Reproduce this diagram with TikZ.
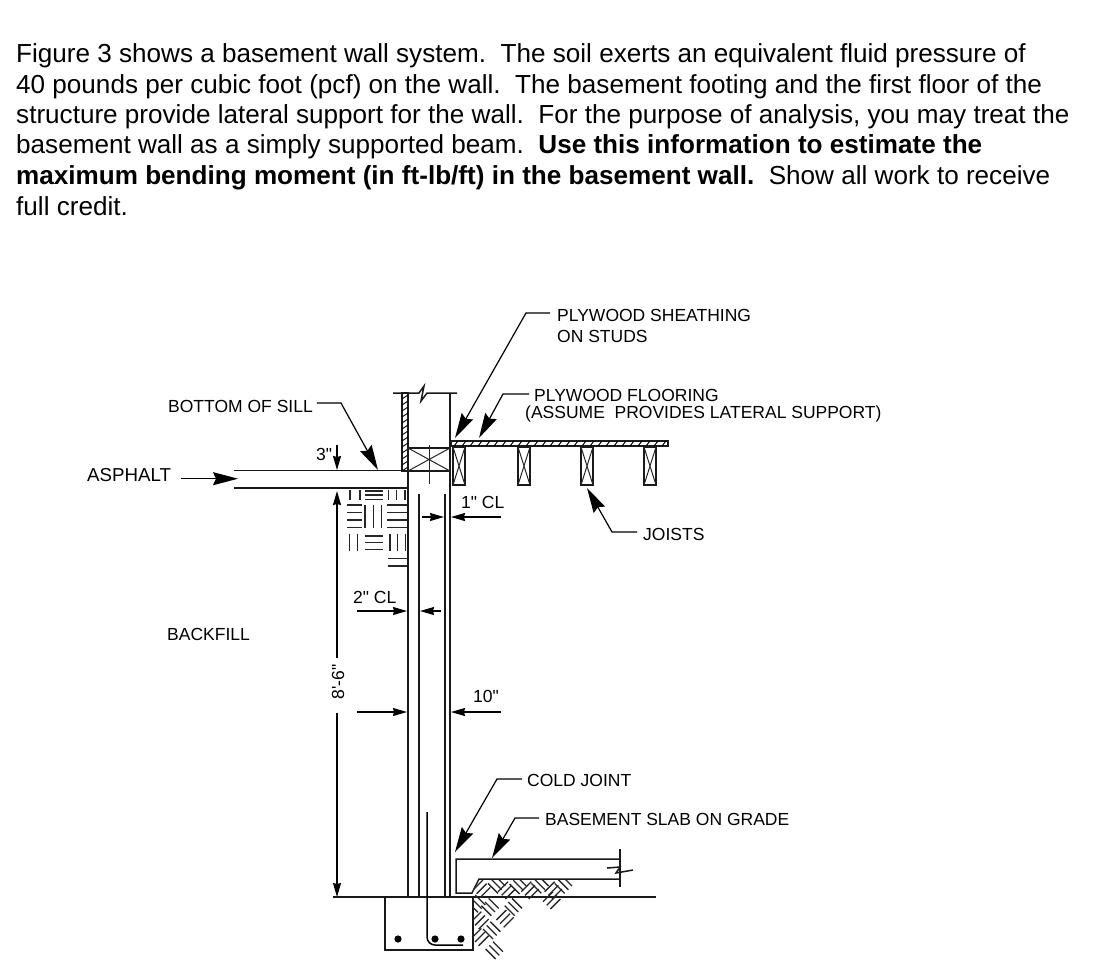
\documentclass[tikz,border=0pt]{standalone}
\usepackage{fontspec}
\setmainfont{Liberation Sans}[Ligatures=TeXOff]
\usetikzlibrary{arrows.meta}
\tikzset{
  para/.style={anchor=base west, inner sep=0pt, font=\fontsize{26.1}{30}\selectfont},
  lbl/.style={anchor=base west, inner sep=0pt, font=\fontsize{17.5}{20}\selectfont},
  ln/.style={line width=1.5pt, black!90},
  thin line/.style={line width=1pt, black!85},
  lead/.style={line width=1.2pt, -{Stealth[length=25pt,width=13pt,inset=3pt]}},
  dim/.style={line width=1.2pt, -{Stealth[length=14pt,width=8pt,inset=1pt]}},
  hatch/.style={line width=1.3pt, black!85}
}
\begin{document}
\begin{tikzpicture}[x=1pt,y=-1pt]
\useasboundingbox (0,0) rectangle (1094,978);
% problem text
\node[para] (line1) at (16,62) {Figure 3 shows a basement wall system.\ \ The soil exerts an equivalent fluid pressure of};
\node[para] (line2) at (16,93) {40 pounds per cubic foot (pcf) on the wall.\ \ The basement footing and the first floor of the};
\node[para] (line3) at (16,123) {structure provide lateral support for the wall.\ \ For the purpose of analysis, you may treat the};
\node[para] (line4) at (16,153.5) {basement wall as a simply supported beam.\ \ \textbf{Use this information to estimate the}};
\node[para] (line5) at (16,184.5) {\textbf{maximum bending moment (in ft-lb/ft) in the basement wall.}\ \ Show all work to receive};
\node[para] (line6) at (16,215) {full credit.};
% labels
\node[lbl] (sheathing) at (557,321) {PLYWOOD SHEATHING};
\node[lbl] (studs) at (557,342) {ON STUDS};
\node[lbl] (flooring) at (534,401) {PLYWOOD FLOORING};
\node[lbl] (assume) at (525,418) {(ASSUME\ \ PROVIDES LATERAL SUPPORT)};
\node[lbl] (sill) at (168,412) {BOTTOM OF SILL};
\node[lbl, font=\fontsize{18.7}{20}\selectfont] (asphalt) at (87,481) {ASPHALT};
\node[lbl] (joists) at (643,540) {JOISTS};
\node[lbl] (backfill) at (167,640) {BACKFILL};
\node[lbl] (coldjoint) at (527,786) {COLD JOINT};
\node[lbl] (slab) at (545,825) {BASEMENT SLAB ON GRADE};
\node[lbl] (three) at (316,460) {3"};
\node[lbl] (onecl) at (461,508) {1" CL};
\node[lbl] (twocl) at (353,603) {2" CL};
\node[lbl] (ten) at (473,702) {10"};
\node[lbl, anchor=center, rotate=90] (height) at (338,682) {8'-6"};
% wall
\draw[ln] (408,393) -- (408,897) (450,393) -- (450,897);
\draw[ln] (419,494) -- (419,897) (445,494) -- (445,897);
\draw[ln] (393,393) -- (419,393) -- (424,386) -- (421,401) -- (427,393) -- (457,393);
% sheathing at top of wall
\draw[ln] (402,393) rectangle (408,471);
\foreach \y in {397,403,...,469} \draw[line width=.9pt] (402,\y+2) -- (408,\y-2);
% sill plate
\draw[ln] (408,448) rectangle (450,471);
\draw[thin line] (408,448) -- (450,471) (408,471) -- (450,448);
\draw[thin line] (429,445) -- (429,484);
% plywood floor
\draw[ln] (451,441) rectangle (668,446);
\foreach \x in {456,464,...,664} \draw[line width=.9pt] (\x-2,446) -- (\x+2,441);
% joists
\foreach \x in {453,518,581,644} {
  \draw[ln] (\x,447) rectangle (\x+12,485);
  \draw[thin line] (\x,447) -- (\x+12,485) (\x,485) -- (\x+12,447);
}
% asphalt and grade
\draw[ln] (234,470.5) -- (407,470.5);
\draw[ln] (234,488) -- (407,488);
\draw[ln] (333,897) -- (385,897) (473,897) -- (656,897);
% backfill hatching
\begin{scope}[shift={(340,380)},x=.3333pt,y=-.3333pt]
\foreach \y in {333,345,358,468,487,508} \draw[hatch] (75,\y) -- (130,\y);
\foreach \y in {375,398,420,443} \draw[hatch] (20,\y) -- (65,\y) (140,\y) -- (200,\y);
\foreach \y in {535,558} \draw[hatch] (145,\y) -- (200,\y);
\foreach \x in {30,60,145,170,195} \draw[hatch] (\x,330) -- (\x,360);
\foreach \x in {75,100,125} \draw[hatch] (\x,375) -- (\x,445);
\foreach \x in {28,53,150,172,197} \draw[hatch] (\x,462) -- (\x,512);
\end{scope}
% footing
\draw[ln] (385,897) rectangle (473,950);
\draw[line width=1.5pt] (427,812) -- (427,937) arc[start angle=180,end angle=90,radius=8] -- (463,945);
\foreach \x in {398,435,461} \fill (\x,939) circle (3.6);
% slab
\draw[ln] (620,859) -- (456,859) -- (456,893) -- (472,893) -- (479,879) -- (620,879);
\draw[ln] (620,849) -- (620,887);
\draw[ln] (607,868) -- (620,867) -- (616,873) -- (633,870);
% slab hatching
\begin{scope}[shift={(465,872)},x=.3333pt,y=-.3333pt]
\clip (24,24) rectangle (360,270);
\foreach \bx/\by in {50/50,125/55,195/55,265/55,120/140,45/145,45/195,260/85} {
  \foreach \k in {-1,0,1} \draw[hatch] (\bx+11*\k-15,\by+11*\k+15) -- (\bx+11*\k+15,\by+11*\k-15);
}
\foreach \bx/\by in {95/38,160/40,225/38,295/38,75/105,145/105,35/95,80/175,88/235} {
  \foreach \k in {-1,0,1} \draw[hatch] (\bx-11*\k-15,\by+11*\k-15) -- (\bx-11*\k+15,\by+11*\k+15);
}
\end{scope}
% leaders
\coordinate (sheathTip) at (455,438);
\coordinate (floorTip) at (479,438);
\coordinate (sillTip) at (378,470);
\coordinate (joistTip) at (587,488);
\coordinate (coldTip) at (455,852);
\coordinate (slabTip) at (492,858);
\coordinate (asphaltTail) at (181,478.7);
\coordinate (asphaltTip) at (238,478.7);
\draw[lead] (sheathing.west) ++(-7,-2) -- ++(-24,0) -- (sheathTip);
\draw[lead] (flooring.west) ++(-5,-1) -- ++(-26,0) -- (floorTip);
\draw[lead] (sill.east) ++(4,-3) -- ++(24,0) -- (sillTip);
\draw[lead] (joists.west) ++(-6,-2) -- ++(-25,0) -- (joistTip);
\draw[lead] (coldjoint.west) ++(-5,-1) -- ++(-25,0) -- (coldTip);
\draw[lead] (slab.west) ++(-6,-1) -- ++(-24,0) -- (slabTip);
\draw[lead] (asphaltTail) -- (asphaltTip);
% dimensions
\coordinate (threeA) at (337,445);
\coordinate (threeB) at (337,470);
\coordinate (heightTop) at (337,491);
\coordinate (heightBot) at (337,897);
\draw[dim] (threeA) -- (threeB);
\draw[dim] (height.east) ++(-1,-6) -- (heightTop);
\draw[dim] (height.west) ++(-1,13) -- (heightBot);
\foreach \name/\ya/\xa/\xb in {cl/517/422/444,clb/517/501/451,cc/611/357/407,ccb/611/441/420,w/712/357/407,wb/712/501/451} {
  \coordinate (\name A) at (\xa,\ya);
  \coordinate (\name B) at (\xb,\ya);
  \draw[dim] (\name A) -- (\name B);
}
\end{tikzpicture}
\end{document}
